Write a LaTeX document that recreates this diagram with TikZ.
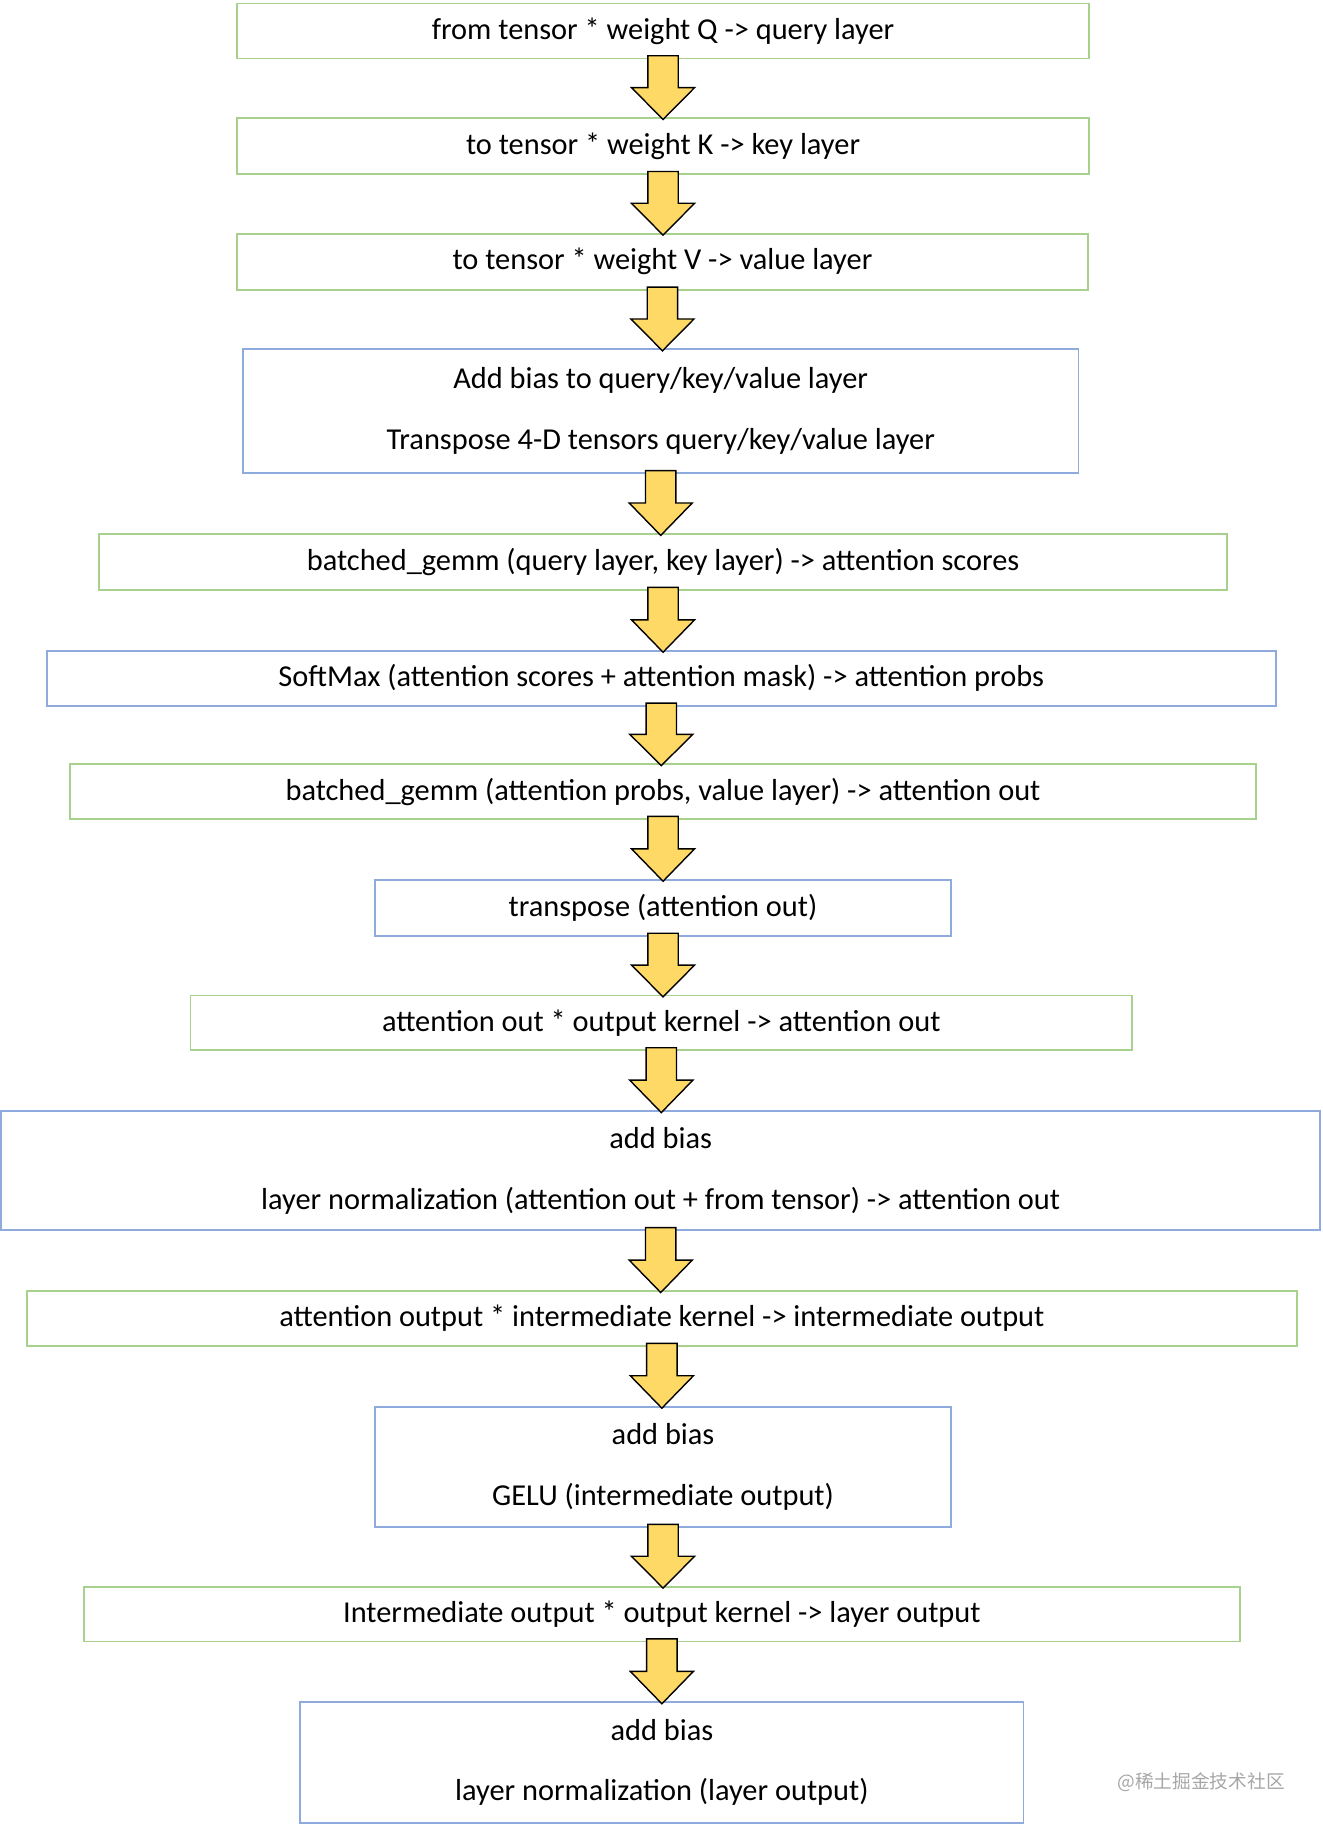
\documentclass[tikz,border=0pt]{standalone}
\usepackage{fontspec}
\setmainfont{Carlito}
\newfontfamily\cjk{Noto Sans CJK SC}
\usetikzlibrary{calc}
\definecolor{gr}{HTML}{A9D18E}
\definecolor{bl}{HTML}{8FAADC}
\definecolor{ye}{HTML}{FFD966}
\tikzset{
 box/.style={draw, line width=1.5pt, inner sep=0pt, font=\fontsize{26}{52}\selectfont, align=center, text=black},
 g/.style={box, draw=gr}, b/.style={box, draw=bl},
 arr/.style={fill=ye, draw=black, line width=1.2pt, line join=miter}
}
\newcommand\bx[7]{\node[#1, minimum width=#4-#3, minimum height=#6-#5] (#2) at ({(#3+#4)/2},{(#5+#6)/2}) {#7};}
\newcommand\barr[2]{\draw[arr] let \p1=($(#1.south)+(0,-3)$), \p2=($(#2.north)+(0,2)$) in
 (\x1-13,\y1) -- (\x1+13,\y1) -- (\x1+13,{0.5*\y1+0.5*\y2}) -- (\x1+27,{0.5*\y1+0.5*\y2}) -- (\x1,\y2) -- (\x1-27,{0.5*\y1+0.5*\y2}) -- (\x1-13,{0.5*\y1+0.5*\y2}) -- cycle;}
\begin{document}
\begin{tikzpicture}[x=1pt,y=-1pt]
\useasboundingbox (0,0) rectangle (1132,1568);
\bx{g}{n1}{203}{932}{3}{50}{from tensor * weight Q -> query layer}
\bx{g}{n2}{203}{932}{101}{149}{to tensor * weight K -> key layer}
\bx{g}{n3}{203}{931}{200}{248}{to tensor * weight V -> value layer}
\bx{b}{n4}{208}{923}{299}{405}{Add bias to query/key/value layer\\Transpose 4-D tensors query/key/value layer}
\bx{g}{n5}{85}{1050}{457}{505}{batched\_gemm (query layer, key layer) -> attention scores}
\bx{b}{n6}{40}{1092}{557}{604}{SoftMax (attention scores + attention mask) -> attention probs}
\bx{g}{n7}{60}{1075}{654}{701}{batched\_gemm (attention probs, value layer) -> attention out}
\bx{b}{n8}{321}{814}{753}{801}{transpose (attention out)}
\bx{g}{n9}{163}{969}{852}{899}{attention out * output kernel -> attention out}
\bx{b}{n10}{1}{1130}{951}{1053}{add bias\\layer normalization (attention out + from tensor) -> attention out}
\bx{g}{n11}{23}{1110}{1105}{1152}{attention output * intermediate kernel -> intermediate output}
\bx{b}{n12}{321}{814}{1204}{1307}{add bias\\GELU (intermediate output)}
\bx{g}{n13}{72}{1061}{1358}{1405}{Intermediate output * output kernel -> layer output}
\bx{b}{n14}{257}{876}{1457}{1560}{add bias\\layer normalization (layer output)}
\foreach \a/\b in {n1/n2,n2/n3,n3/n4,n4/n5,n5/n6,n6/n7,n7/n8,n8/n9,n9/n10,n10/n11,n11/n12,n12/n13,n13/n14}{\barr{\a}{\b}}
\node[text=gray!70, font=\cjk\fontsize{16}{18}\selectfont] (wm) at (1028,1525) {@稀土掘金技术社区};
\end{tikzpicture}
\end{document}
